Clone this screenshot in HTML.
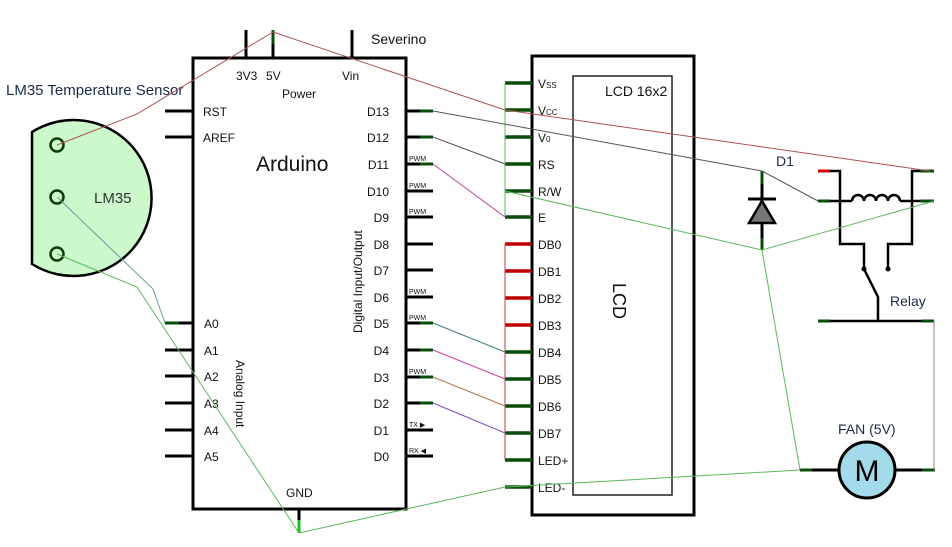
<!DOCTYPE html>
<html><head><meta charset="utf-8"><style>
html,body{margin:0;padding:0;background:#fff;}
svg{display:block;font-family:"Liberation Sans","DejaVu Sans",sans-serif;}
</style></head><body>
<svg width="952" height="547" viewBox="0 0 952 547" xmlns="http://www.w3.org/2000/svg">
<rect width="952" height="547" fill="#fff"/>
<!-- LM35 -->
<path d="M32,132 A78,78 0 1,1 32,264 Z" fill="#ccf8cc" stroke="#000" stroke-width="2.5"/>
<g fill="none" stroke="#0a3d0a" stroke-width="2.5">
<circle cx="57" cy="145" r="6.5"/><circle cx="57" cy="197" r="6.5"/><circle cx="57" cy="254" r="6.5"/>
</g>
<text x="94" y="203" font-size="15" fill="#333">LM35</text>
<text x="6" y="95" font-size="15" fill="#1a2a4a">LM35 Temperature Sensor</text>

<!-- Arduino -->
<rect x="193" y="58" width="213" height="451" fill="none" stroke="#000" stroke-width="3"/>
<g stroke="#000" stroke-width="3">
<line x1="246" y1="30" x2="246" y2="58"/><line x1="273" y1="30" x2="273" y2="58"/><line x1="352" y1="30" x2="352" y2="58"/>
<line x1="165" y1="111" x2="193" y2="111"/><line x1="165" y1="137" x2="193" y2="137"/>
<line x1="165" y1="323" x2="193" y2="323"/><line x1="165" y1="350" x2="193" y2="350"/><line x1="165" y1="376" x2="193" y2="376"/>
<line x1="165" y1="403" x2="193" y2="403"/><line x1="165" y1="430" x2="193" y2="430"/><line x1="165" y1="456" x2="193" y2="456"/>
<line x1="299" y1="509" x2="299" y2="533"/>
</g>
<g stroke="#000" stroke-width="3">
<line x1="406" y1="111" x2="433" y2="111"/><line x1="406" y1="137" x2="433" y2="137"/><line x1="406" y1="164" x2="433" y2="164"/>
<line x1="406" y1="191" x2="433" y2="191"/><line x1="406" y1="217" x2="433" y2="217"/><line x1="406" y1="244" x2="433" y2="244"/>
<line x1="406" y1="270" x2="433" y2="270"/><line x1="406" y1="297" x2="433" y2="297"/><line x1="406" y1="323" x2="433" y2="323"/>
<line x1="406" y1="350" x2="433" y2="350"/><line x1="406" y1="377" x2="433" y2="377"/><line x1="406" y1="403" x2="433" y2="403"/>
<line x1="406" y1="430" x2="433" y2="430"/><line x1="406" y1="456" x2="433" y2="456"/>
</g>
<g stroke="#0a4d0a" stroke-width="3">
<line x1="420" y1="111" x2="433" y2="111"/><line x1="420" y1="137" x2="433" y2="137"/><line x1="420" y1="164" x2="433" y2="164"/>
<line x1="420" y1="323" x2="433" y2="323"/><line x1="420" y1="350" x2="433" y2="350"/><line x1="420" y1="377" x2="433" y2="377"/><line x1="420" y1="403" x2="433" y2="403"/>
<line x1="165" y1="323" x2="179" y2="323"/><line x1="273" y1="30" x2="273" y2="44"/>
</g>
<line x1="299" y1="520" x2="299" y2="533" stroke="#1cc01c" stroke-width="3"/>
<g font-size="12" fill="#111">
<text x="236" y="80">3V3</text><text x="266" y="80">5V</text><text x="342" y="80">Vin</text>
<text x="282" y="98">Power</text>
<text x="371" y="44" font-size="14">Severino</text>
<text x="203" y="116">RST</text><text x="203" y="142">AREF</text>
<text x="204" y="328">A0</text><text x="204" y="355">A1</text><text x="204" y="381">A2</text>
<text x="204" y="408">A3</text><text x="204" y="435">A4</text><text x="204" y="461">A5</text>
<text x="286" y="497">GND</text>
<g text-anchor="end">
<text x="389" y="116">D13</text><text x="389" y="142">D12</text><text x="389" y="169">D11</text><text x="389" y="196">D10</text>
<text x="389" y="222">D9</text><text x="389" y="249">D8</text><text x="389" y="275">D7</text><text x="389" y="302">D6</text>
<text x="389" y="328">D5</text><text x="389" y="355">D4</text><text x="389" y="382">D3</text><text x="389" y="408">D2</text>
<text x="389" y="435">D1</text><text x="389" y="461">D0</text>
</g>
<g font-size="7">
<text x="409" y="161">PWM</text><text x="409" y="188">PWM</text><text x="409" y="214">PWM</text><text x="409" y="294">PWM</text>
<text x="409" y="320">PWM</text><text x="409" y="374">PWM</text><text x="409" y="427">TX ▶</text><text x="409" y="453">RX ◀</text>
</g>
<text transform="translate(362,333) rotate(-90)">Digital Input/Output</text>
<text transform="translate(236,360) rotate(90)">Analog Input</text>
</g>
<text x="256" y="171" font-size="21" fill="#111">Arduino</text>

<!-- LCD -->
<rect x="532" y="56" width="162" height="459" fill="none" stroke="#000" stroke-width="3"/>
<rect x="573" y="76" width="99" height="419" fill="none" stroke="#222" stroke-width="1.5"/>
<g stroke-width="3.5">
<g stroke="#0a4d0a">
<line x1="505" y1="83" x2="532" y2="83"/><line x1="505" y1="110" x2="532" y2="110"/><line x1="505" y1="137" x2="532" y2="137"/>
<line x1="505" y1="164" x2="532" y2="164"/><line x1="505" y1="191" x2="532" y2="191"/><line x1="505" y1="217" x2="532" y2="217"/>
<line x1="505" y1="352" x2="532" y2="352"/><line x1="505" y1="379" x2="532" y2="379"/><line x1="505" y1="406" x2="532" y2="406"/>
<line x1="505" y1="433" x2="532" y2="433"/><line x1="505" y1="460" x2="532" y2="460"/><line x1="505" y1="487" x2="532" y2="487"/>
</g>
<g stroke="#c00000">
<line x1="505" y1="244" x2="532" y2="244"/><line x1="505" y1="271" x2="532" y2="271"/><line x1="505" y1="298" x2="532" y2="298"/><line x1="505" y1="325" x2="532" y2="325"/>
</g>
</g>
<line x1="505" y1="83" x2="505" y2="217" stroke="#5cb85c" stroke-width="1"/>
<line x1="505" y1="244" x2="505" y2="460" stroke="#c04040" stroke-width="1"/>
<g font-size="12" fill="#111">
<text x="538" y="88">V<tspan font-size="8">SS</tspan></text><text x="538" y="115">V<tspan font-size="8">CC</tspan></text>
<text x="538" y="142">V<tspan font-size="8">0</tspan></text><text x="538" y="169">RS</text><text x="538" y="196">R/W</text>
<text x="538" y="222">E</text><text x="538" y="249">DB0</text><text x="538" y="276">DB1</text><text x="538" y="303">DB2</text>
<text x="538" y="330">DB3</text><text x="538" y="357">DB4</text><text x="538" y="384">DB5</text><text x="538" y="411">DB6</text>
<text x="538" y="438">DB7</text><text x="538" y="465">LED+</text><text x="538" y="492">LED-</text>
</g>
<text x="605" y="96" font-size="14" fill="#111">LCD 16x2</text>
<text transform="translate(613,283) rotate(90)" font-size="18" fill="#111">LCD</text>

<!-- Diode -->
<line x1="762" y1="171" x2="762" y2="250" stroke="#000" stroke-width="3"/>
<line x1="762" y1="171" x2="762" y2="184" stroke="#0a4d0a" stroke-width="3"/>
<line x1="762" y1="238" x2="762" y2="250" stroke="#0a4d0a" stroke-width="3"/>
<line x1="748" y1="199" x2="776" y2="199" stroke="#000" stroke-width="3"/>
<polygon points="762,201 749,223 775,223" fill="#777" stroke="#000" stroke-width="2.5"/>
<text x="776" y="166" font-size="14" fill="#1a2a4a">D1</text>

<!-- Relay -->
<g stroke="#000" stroke-width="2.5" fill="none">
<line x1="818" y1="201" x2="852" y2="201"/><line x1="900" y1="201" x2="930" y2="201"/>
<polyline points="830,171 840,171 840,244 864,244 864,269"/>
<polyline points="930,171 912,171 912,244 888,244 888,269"/>
<polyline points="864,269 878,297 878,321"/>
<line x1="818" y1="321" x2="934" y2="321"/>
</g>
<path d="M852,201 a6,6 0 0,1 12,0 a6,6 0 0,1 12,0 a6,6 0 0,1 12,0 a6,6 0 0,1 12,0" stroke="#000" stroke-width="2.5" fill="none"/>
<circle cx="864" cy="269" r="2.5"/><circle cx="888" cy="269" r="2.5"/>
<line x1="818" y1="171" x2="830" y2="171" stroke="#d00000" stroke-width="3"/>
<g stroke="#0a4d0a" stroke-width="3">
<line x1="818" y1="201" x2="830" y2="201"/><line x1="920" y1="201" x2="934" y2="201"/><line x1="920" y1="171" x2="934" y2="171"/>
<line x1="818" y1="321" x2="830" y2="321"/><line x1="922" y1="321" x2="934" y2="321"/>
</g>
<text x="890" y="306" font-size="14" fill="#1a2a4a">Relay</text>

<!-- Fan -->
<line x1="800" y1="470" x2="935" y2="470" stroke="#000" stroke-width="3"/>
<g stroke="#0a4d0a" stroke-width="3"><line x1="800" y1="470" x2="812" y2="470"/><line x1="922" y1="470" x2="935" y2="470"/></g>
<circle cx="867" cy="470" r="28" fill="#a4dbea" stroke="#000" stroke-width="3"/>
<text x="867" y="481" font-size="30" text-anchor="middle" fill="#000">M</text>
<text x="838" y="434" font-size="14" fill="#1a2a4a">FAN (5V)</text>

<!-- Wires -->
<g fill="none" stroke-width="1">
<polyline points="57,145 137,114 273,32 505,110 930,171" stroke="#b05050"/>
<polyline points="433,111 762,171 818,201" stroke="#555"/>
<polyline points="433,137 505,164" stroke="#555"/>
<polyline points="433,164 505,217" stroke="#c040a0"/>
<polyline points="433,323 505,352" stroke="#408080"/>
<polyline points="433,350 505,379" stroke="#d040a0"/>
<polyline points="433,377 505,406" stroke="#b07040"/>
<polyline points="433,403 505,433" stroke="#8050c0"/>
<polyline points="505,191 762,250 934,201" stroke="#5cb85c"/>
<polyline points="762,250 800,470" stroke="#5cb85c"/>
<polyline points="299,533 505,487 800,470" stroke="#5cb85c"/>
<polyline points="57,254 137,287 299,533" stroke="#5cb85c"/>
<polyline points="57,197 153,289 165,323" stroke="#6a9aa0"/>
<polyline points="934,321 934,470" stroke="#888"/>
</g>
</svg>
</body></html>
